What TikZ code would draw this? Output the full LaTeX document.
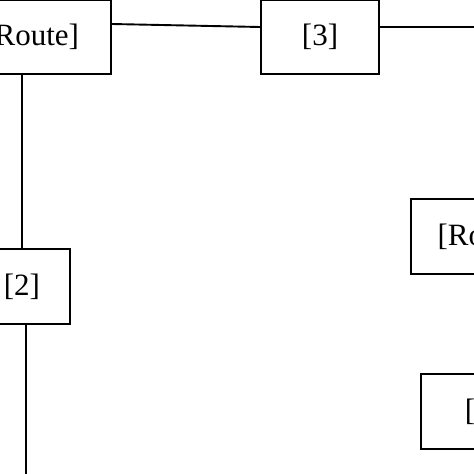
\documentclass[tikz,border=0pt]{standalone}
\usepackage{fontspec}
\setmainfont{Liberation Serif}
\begin{document}
\begin{tikzpicture}[x=1pt,y=-1pt,
  box/.style={draw, line width=1.9pt, font=\fontsize{31}{34}\selectfont, inner sep=0pt},
  link/.style={line width=1.9pt}]
\useasboundingbox (0,0) rectangle (474,474);
\clip (0,0) rectangle (474,474);
\node[box, minimum width=159pt, minimum height=73.5pt] (route) at (31.6,37.25) {[Route]};
\node[box, minimum width=118pt, minimum height=73.5pt] (n3) at (320,37.25) {[3]};
\node[box, minimum width=96pt, minimum height=75pt] (n2) at (22,286.5) {[2]};
\node[box, minimum width=148pt, minimum height=75pt] (routeR) at (485,236.5) {[Route]};
\node[box, minimum width=124pt, minimum height=75pt] (n1) at (483,411.5) {[1]};
\coordinate (e1) at (480,27);
\coordinate (e2) at (26,480);
\draw[link] ([yshift=13.25pt]route.east) -- ([yshift=10.25pt]n3.west);
\draw[link] ([yshift=10.25pt]n3.east) -- (e1);
\draw[link] ([xshift=-9.6pt]route.south) -- (n2.north);
\draw[link] ([xshift=4pt]n2.south) -- (e2);
\end{tikzpicture}
\end{document}
